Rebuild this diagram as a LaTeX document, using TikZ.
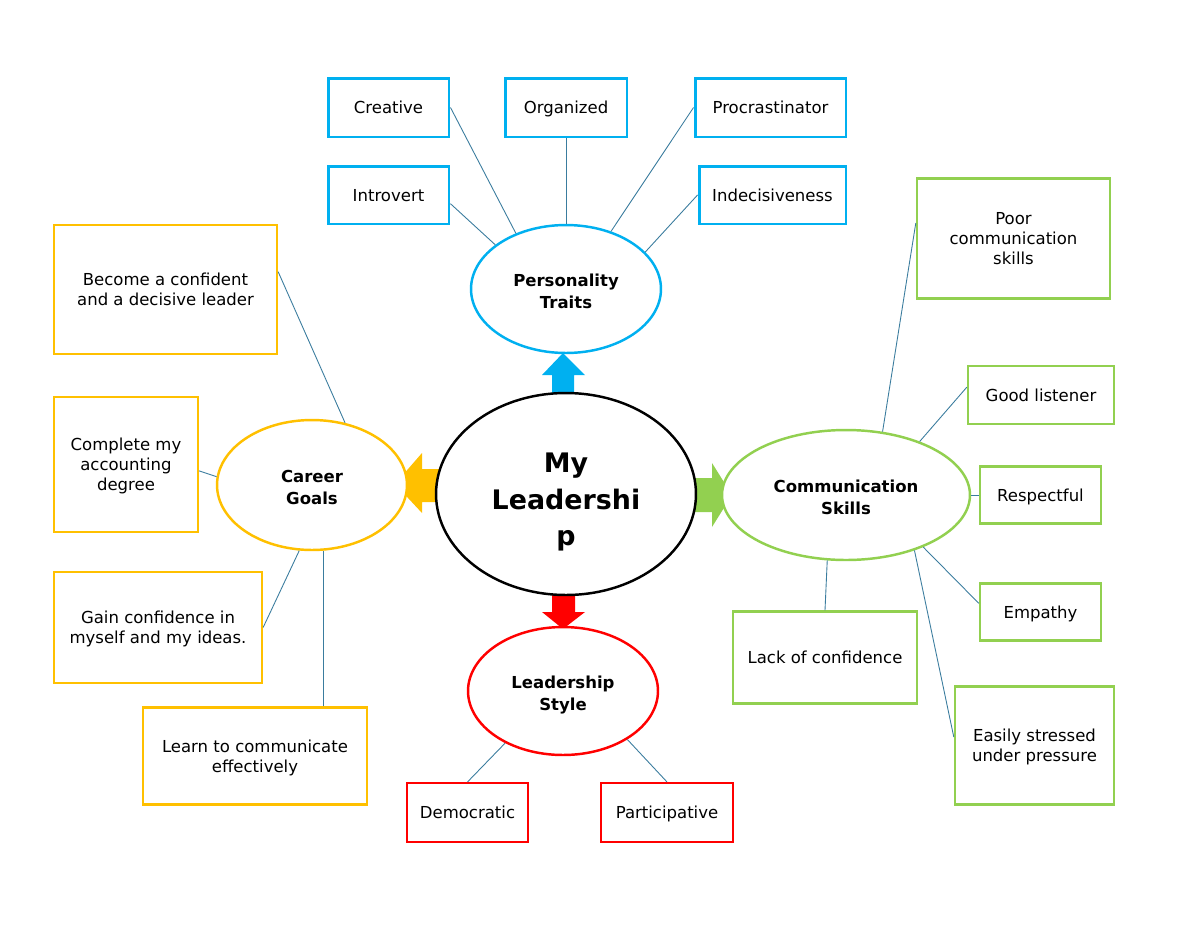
\documentclass[tikz,border=0pt]{standalone}
\usepackage{fontspec}
\setmainfont{DejaVu Sans}
\usetikzlibrary{shapes.geometric,calc}
\definecolor{ptblue}{HTML}{00B0F0}
\definecolor{cgorange}{HTML}{FFC000}
\definecolor{csgreen}{HTML}{92D050}
\definecolor{lsred}{HTML}{FF0000}
\definecolor{linkc}{HTML}{3A7C9E}
\begin{document}
\begin{tikzpicture}[x=0.02cm,y=-0.02cm,
  lbl/.style={font=\fontsize{9.4}{11.3}\selectfont, align=center, text=black},
  box/.style={lbl, draw, rectangle, inner sep=0pt, fill=white, text depth=0pt},
  bluebox/.style={box, draw=ptblue, line width=1.7pt},
  orangebox/.style={box, draw=cgorange, line width=1.3pt},
  greenbox/.style={box, draw=csgreen, line width=1.4pt},
  redbox/.style={box, draw=lsred, line width=1.2pt},
  bub/.style={ellipse, draw, fill=white, line width=1.4pt, inner sep=0pt},
  bubtext/.style={align=center, text=black, font=\bfseries\fontsize{9.4}{12.5}\selectfont},
  link/.style={draw=linkc, line width=0.5pt}
]
\useasboundingbox[fill=white] (0,0) rectangle (1200,927);

% block arrows from the central topic to the four branches
\coordinate (mytop) at (566,393);
\coordinate (mybot) at (566,595);
\coordinate (myleft) at (436,494);
\coordinate (myright) at (696,494);
\fill[ptblue, shift={(mytop)}] (-14,3) -- (-14,-18) -- (-24,-18) -- (-3,-40) -- (19,-18) -- (8,-18) -- (8,3) -- cycle;
\fill[lsred, shift={(mybot)}] (-14,-3) -- (-14,17) -- (-24,17) -- (-3,34) -- (19,17) -- (9,17) -- (9,-3) -- cycle;
\fill[cgorange, shift={(myleft)}] (3,-25) -- (-14,-25) -- (-14,-41) -- (-41,-10) -- (-14,19) -- (-14,8) -- (3,8) -- cycle;
\fill[csgreen, shift={(myright)}] (-3,-16) -- (16,-16) -- (16,-31) -- (36,1) -- (16,33) -- (16,18) -- (-3,18) -- cycle;

% central topic
\node[bub, draw=black, minimum width=5.20cm, minimum height=4.04cm,
      label={[bubtext, font=\bfseries\fontsize{15.3}{21}\selectfont, yshift=-0.16cm]center:{My\\Leadershi\\p}}] (my) at (566,494) {};

% branch topics
\node[bub, draw=ptblue, minimum width=3.80cm, minimum height=2.56cm,
      label={[bubtext, yshift=-0.04cm]center:{Personality\\Traits}}] (pt) at (566,289) {};
\node[bub, draw=cgorange, minimum width=3.80cm, minimum height=2.60cm,
      label={[bubtext, yshift=-0.04cm]center:{Career\\Goals}}] (cg) at (312,485) {};
\node[bub, draw=csgreen, minimum width=4.96cm, minimum height=2.60cm,
      label={[bubtext, yshift=-0.04cm]center:{Communication\\Skills}}] (cs) at (846,495) {};
\node[bub, draw=lsred, minimum width=3.80cm, minimum height=2.56cm,
      label={[bubtext, yshift=-0.08cm]center:{Leadership\\Style}}] (ls) at (563,691) {};

% personality traits
\node[bluebox, minimum width=2.42cm, minimum height=1.18cm] (creative) at (388.5,107.5) {Creative};
\node[bluebox, minimum width=2.44cm, minimum height=1.18cm] (organized) at (566,107.5) {Organized};
\node[bluebox, minimum width=3.02cm, minimum height=1.18cm] (procr) at (770.5,107.5) {Procrastinator};
\node[bluebox, minimum width=2.42cm, minimum height=1.16cm] (introvert) at (388.5,195) {Introvert};
\node[bluebox, minimum width=2.94cm, minimum height=1.16cm] (indec) at (772.5,195) {Indecisiveness};

% career goals
\node[orangebox, minimum width=4.46cm, minimum height=2.58cm] (become) at (165.5,289.5) {Become a confident\\and a decisive leader};
\node[orangebox, minimum width=2.88cm, minimum height=2.70cm] (complete) at (126,464.5) {Complete my\\accounting\\degree};
\node[orangebox, minimum width=4.16cm, minimum height=2.22cm] (gain) at (158,627.5) {Gain confidence in\\myself and my ideas.};
\node[orangebox, minimum width=4.48cm, minimum height=1.94cm] (learn) at (255,756) {Learn to communicate\\effectively};

% communication skills
\node[greenbox, minimum width=3.86cm, minimum height=2.40cm] (poor) at (1013.5,238.5) {Poor\\communication\\skills};
\node[greenbox, minimum width=2.92cm, minimum height=1.16cm] (good) at (1041,395) {Good listener};
\node[greenbox, minimum width=2.42cm, minimum height=1.14cm] (resp) at (1040.5,495) {Respectful};
\node[greenbox, minimum width=2.42cm, minimum height=1.14cm] (empathy) at (1040.5,612) {Empathy};
\node[greenbox, minimum width=3.18cm, minimum height=2.36cm] (easily) at (1034.5,745.5) {Easily stressed\\under pressure};
\node[greenbox, minimum width=3.68cm, minimum height=1.84cm] (lack) at (825,657.5) {Lack of confidence};

% leadership style
\node[redbox, minimum width=2.42cm, minimum height=1.18cm] (dem) at (467.5,812.5) {Democratic};
\node[redbox, minimum width=2.64cm, minimum height=1.18cm] (part) at (667,812.5) {Participative};

% connectors
\draw[link] (creative.east) -- (pt.132);
\draw[link] (introvert.-8) -- (pt.148);
\draw[link] (organized.south) -- (pt.north);
\draw[link] (procr.west) -- (pt.52);
\draw[link] (indec.west) -- (pt.25);

\draw[link] (become.9) -- (cg.62);
\draw[link] (complete.-5) -- (cg.175);
\draw[link] (gain.east) -- (cg.259);
\draw[link] (learn.north -| cg.280) -- (cg.280);

\draw[link] (poor.171) -- (cs.60);
\draw[link] (good.174) -- (cs.36);
\draw[link] (resp.west) -- (cs.east);
\draw[link] (empathy.172) -- (cs.-34);
\draw[link] (easily.174) -- (cs.-39);
\draw[link] (lack.north) -- (cs.254);

\draw[link] (dem.north) -- (ls.222);
\draw[link] (part.north) -- (ls.-37);
\end{tikzpicture}
\end{document}
